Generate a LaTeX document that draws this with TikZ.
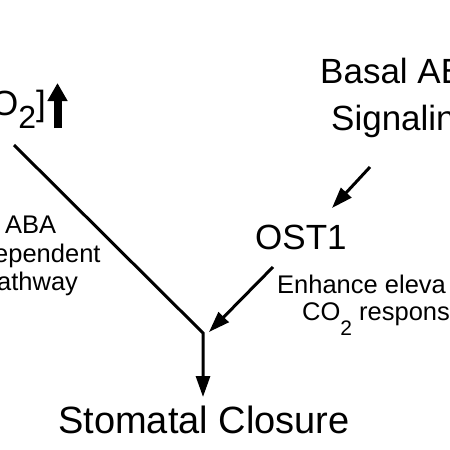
\documentclass[tikz,border=0pt]{standalone}
\usepackage{fontspec}
\setmainfont{Liberation Sans}
\usetikzlibrary{arrows.meta}

\newcommand{\lowtwo}[2]{\raisebox{-#2}{\fontsize{#1}{#1}\selectfont 2}}

\tikzset{
  bigtext/.style={font=\fontsize{35}{47}\selectfont, inner sep=0pt, anchor=base west},
  smalltext/.style={font=\fontsize{25.5}{29}\selectfont, inner sep=0pt, anchor=base west},
  plainline/.style={line width=3pt},
  linearrow/.style={line width=3pt, -{Triangle[length=21pt,width=14pt]}}
}

\begin{document}
\begin{tikzpicture}[x=1pt,y=-1pt]
\useasboundingbox (0,0) rectangle (450,450);
\clip (0,0) rectangle (450,450);

% top left: CO2 going up
\node[bigtext] (co2) at (-9,115) {O\lowtwo{32pt}{13pt}]};
\coordinate (upbase) at (57.5,128);
\coordinate (uptip) at (57.5,83);
\draw[line width=8pt, -{Triangle[length=18pt,width=19pt]}] (upbase) -- (uptip);

% top right: basal ABA signaling
\node[bigtext] (basal) at (320,83) {Basal AB};
\node[bigtext] (signal) at (331,130) {Signalin};

% OST1
\node[bigtext] (ost1) at (255,249) {OST1};

% left pathway label
\node[smalltext] (aba) at (5,233) {ABA};
\node[smalltext] (indep) at (-6,262) {ependent};
\node[smalltext] (pathway) at (-3,290) {athway};

% right label
\node[smalltext] (enhance) at (277,293) {Enhance eleva};
\node[smalltext] (response) at (302,320) {CO\lowtwo{21pt}{15pt} respons};

% bottom
\node[font=\fontsize{38}{44}\selectfont, inner sep=0pt, anchor=base west] (closure) at (58,433) {Stomatal Closure};

% connectors
\coordinate (co2line) at (14,145);
\coordinate (junction) at (203,333);
\coordinate (closuretip) at (203,397);
\draw[linearrow] (co2line) -- (junction) -- (closuretip);

\coordinate (basalend) at (370,167);
\coordinate (osttip) at (332,208);
\draw[linearrow] (basalend) -- (osttip);

\coordinate (oststart) at (273,267);
\coordinate (jtip) at (209,332);
\draw[linearrow] (oststart) -- (jtip);
\end{tikzpicture}
\end{document}
